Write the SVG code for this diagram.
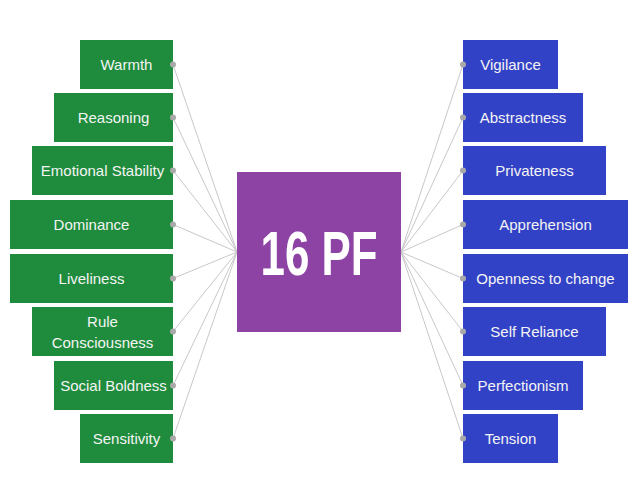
<svg xmlns="http://www.w3.org/2000/svg" width="638" height="478" viewBox="0 0 638 478">
<style>
.g{fill:#1e8c3c}
.b{fill:#3242c6}
.t{font-family:"Liberation Sans",Arial,sans-serif;font-size:15px;fill:#f4f4f4;text-anchor:middle}
.c line{stroke:#c8c8c8;stroke-width:1}
.c circle{fill:#a9a9a9}
</style>
<rect width="638" height="478" fill="#ffffff"/>
<g class="c" id="connectors">
<line x1="173" y1="64.5" x2="237" y2="252"/>
<line x1="173" y1="117.5" x2="237" y2="252"/>
<line x1="173" y1="170.5" x2="237" y2="252"/>
<line x1="173" y1="224.5" x2="237" y2="252"/>
<line x1="173" y1="278.5" x2="237" y2="252"/>
<line x1="173" y1="331.5" x2="237" y2="252"/>
<line x1="173" y1="385.5" x2="237" y2="252"/>
<line x1="173" y1="438.5" x2="237" y2="252"/>
<line x1="463" y1="64.5" x2="401" y2="252"/>
<line x1="463" y1="117.5" x2="401" y2="252"/>
<line x1="463" y1="170.5" x2="401" y2="252"/>
<line x1="463" y1="224.5" x2="401" y2="252"/>
<line x1="463" y1="278.5" x2="401" y2="252"/>
<line x1="463" y1="331.5" x2="401" y2="252"/>
<line x1="463" y1="385.5" x2="401" y2="252"/>
<line x1="463" y1="438.5" x2="401" y2="252"/>
</g>
<g id="center">
<rect x="237" y="172" width="164" height="160" fill="#8c43a4"/>
<text x="319" y="275" font-family="'Liberation Sans',Arial,sans-serif" font-weight="bold" font-size="63" fill="#ffffff" text-anchor="middle" textLength="117" lengthAdjust="spacingAndGlyphs">16 PF</text>
</g>
<g id="warmth"><rect class="g" x="80" y="40" width="93" height="49"/><text class="t" x="126.5" y="70">Warmth</text></g>
<g id="reasoning"><rect class="g" x="54" y="93" width="119" height="49"/><text class="t" x="113.5" y="123">Reasoning</text></g>
<g id="emotional-stability"><rect class="g" x="32" y="146" width="141" height="49"/><text class="t" x="102.5" y="176">Emotional Stability</text></g>
<g id="dominance"><rect class="g" x="10" y="200" width="163" height="49"/><text class="t" x="91.5" y="230">Dominance</text></g>
<g id="liveliness"><rect class="g" x="10" y="254" width="163" height="49"/><text class="t" x="91.5" y="284">Liveliness</text></g>
<g id="rule-consciousness"><rect class="g" x="32" y="307" width="141" height="49"/><text class="t" x="102.5" y="327">Rule</text><text class="t" x="102.5" y="348">Consciousness</text></g>
<g id="social-boldness"><rect class="g" x="54" y="361" width="119" height="49"/><text class="t" x="113.5" y="391">Social Boldness</text></g>
<g id="sensitivity"><rect class="g" x="80" y="414" width="93" height="49"/><text class="t" x="126.5" y="444">Sensitivity</text></g>
<g id="vigilance"><rect class="b" x="463" y="40" width="95" height="49"/><text class="t" x="510.5" y="70">Vigilance</text></g>
<g id="abstractness"><rect class="b" x="463" y="93" width="120" height="49"/><text class="t" x="523" y="123">Abstractness</text></g>
<g id="privateness"><rect class="b" x="463" y="146" width="143" height="49"/><text class="t" x="534.5" y="176">Privateness</text></g>
<g id="apprehension"><rect class="b" x="463" y="200" width="165" height="49"/><text class="t" x="545.5" y="230">Apprehension</text></g>
<g id="openness"><rect class="b" x="463" y="254" width="165" height="49"/><text class="t" x="545.5" y="284">Openness to change</text></g>
<g id="self-reliance"><rect class="b" x="463" y="307" width="143" height="49"/><text class="t" x="534.5" y="337">Self Reliance</text></g>
<g id="perfectionism"><rect class="b" x="463" y="361" width="120" height="49"/><text class="t" x="523" y="391">Perfectionism</text></g>
<g id="tension"><rect class="b" x="463" y="414" width="95" height="49"/><text class="t" x="510.5" y="444">Tension</text></g>
<g class="c" id="connector-dots">
<circle cx="173" cy="64.5" r="3"/><circle cx="173" cy="117.5" r="3"/><circle cx="173" cy="170.5" r="3"/><circle cx="173" cy="224.5" r="3"/>
<circle cx="173" cy="278.5" r="3"/><circle cx="173" cy="331.5" r="3"/><circle cx="173" cy="385.5" r="3"/><circle cx="173" cy="438.5" r="3"/>
<circle cx="463" cy="64.5" r="3"/><circle cx="463" cy="117.5" r="3"/><circle cx="463" cy="170.5" r="3"/><circle cx="463" cy="224.5" r="3"/>
<circle cx="463" cy="278.5" r="3"/><circle cx="463" cy="331.5" r="3"/><circle cx="463" cy="385.5" r="3"/><circle cx="463" cy="438.5" r="3"/>
</g>
</svg>
